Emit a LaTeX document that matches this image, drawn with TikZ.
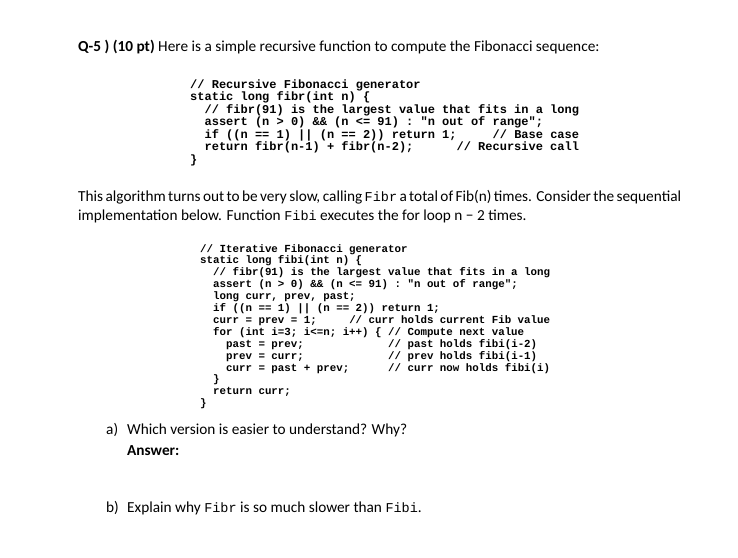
\documentclass[tikz,border=0pt]{standalone}
\usepackage{fontspec}
\setmainfont{Carlito}
\setmonofont{Liberation Mono}
\newcommand{\mytt}[1]{{\fontsize{13.5}{15}\ttfamily #1}}
\begin{document}
\begin{tikzpicture}[x=1pt,y=-1pt,
  txt/.style={anchor=base west,inner sep=0pt,font=\fontsize{15.3}{17}\selectfont},
  code/.style={anchor=base west,inner sep=0pt,font=\fontsize{12}{12}\ttfamily\bfseries},
  codeb/.style={anchor=base west,inner sep=0pt,font=\fontsize{10.8}{12}\ttfamily\bfseries}]
\useasboundingbox[fill=white] (0,0) rectangle (738,557);
\node[txt] (title) at (78,51) {\textbf{Q-5 ) (10 pt)} Here is a simple recursive function to compute the Fibonacci sequence:};
\foreach \l [count=\i from 0] in {
 {// Recursive Fibonacci generator},
 {static long fibr(int n) \{},
 {\ \ // fibr(91) is the largest value that fits in a long},
 {\ \ assert (n > 0) \&\& (n <= 91) : "n out of range";},
 {\ \ if ((n == 1) || (n == 2)) return 1;\ \ \ \ \ // Base case},
 {\ \ return fibr(n-1) + fibr(n-2);\ \ \ \ \ \ // Recursive call},
 {\}}}
 \node[code] (r\i) at (190,{88+12.5*\i}) {\l};
\node[txt] (p1) at (78,201) {\hbox to 603pt{This algorithm turns out to be very slow, calling \mytt{Fibr} a total of Fib(n) times. Consider the sequential}};
\node[txt] (p2) at (78,220) {implementation below. Function \mytt{Fibi} executes the for loop n − 2 times.};
\foreach \l [count=\i from 0] in {
 {// Iterative Fibonacci generator},
 {static long fibi(int n) \{},
 {\ \ // fibr(91) is the largest value that fits in a long},
 {\ \ assert (n > 0) \&\& (n <= 91) : "n out of range";},
 {\ \ long curr, prev, past;},
 {\ \ if ((n == 1) || (n == 2)) return 1;},
 {\ \ curr = prev = 1;\ \ \ \ \ // curr holds current Fib value},
 {\ \ for (int i=3; i<=n; i++) \{ // Compute next value},
 {\ \ \ \ past = prev;\ \ \ \ \ \ \ \ \ \ \ \ \ // past holds fibi(i-2)},
 {\ \ \ \ prev = curr;\ \ \ \ \ \ \ \ \ \ \ \ \ // prev holds fibi(i-1)},
 {\ \ \ \ curr = past + prev;\ \ \ \ \ \ // curr now holds fibi(i)},
 {\ \ \}},
 {\ \ return curr;},
 {\}}}
 \node[codeb] (i\i) at (200,{252+11.9*\i}) {\l};
\node[txt] (qa) at (106,434) {a)};
\node[txt] (qat) at (127,434) {Which version is easier to understand? Why?};
\node[txt] (ans) at (127,455) {\textbf{Answer:}};
\node[txt] (qb) at (106,512) {b)};
\node[txt] (qbt) at (127,512) {Explain why \mytt{Fibr} is so much slower than \mytt{Fibi}.};
\end{tikzpicture}
\end{document}
